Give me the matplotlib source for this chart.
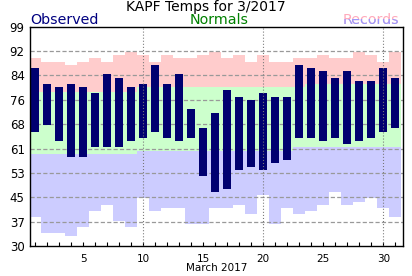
import matplotlib
matplotlib.use("Agg")
import matplotlib.pyplot as plt
import numpy as np
from matplotlib.patches import Rectangle

plt.rcParams['font.family'] = ['DejaVu Sans']
plt.rcParams['lines.scale_dashes'] = False

days = list(range(1, 32))
obs_high = [86, 81, 80, 81, 80, 78, 84, 83, 80, 81, 87, 81, 84, 73, 67, 72,
            79, 77, 76, 78, 77, 77, 87, 86, 85, 83, 85, 82, 82, 86, 83]
obs_low = [66, 68, 63, 58, 58, 61, 61, 61, 63, 64, 66, 64, 63, 64, 52, 47,
           48, 54, 55, 54, 56, 57, 64, 64, 63, 64, 62, 63, 64, 66, 67]
norm_high = [78.5] * 9 + [80] * 14 + [81] * 8
norm_low = [59] * 9 + [60] * 13 + [61] * 9
rec_high = [89, 88, 88, 87, 88, 89, 88, 90, 91, 90, 88, 90, 89, 89, 90, 91,
            89, 90, 88, 90, 88, 88, 89, 89, 90, 89, 89, 91, 90, 88, 91]
rec_low = [39, 34, 34, 33, 36, 41, 43, 38, 36, 45, 41, 42, 42, 37, 37, 42,
           42, 43, 40, 46, 37, 42, 40, 41, 43, 47, 43, 44, 45, 42, 39]
y_tick_labels = ["30", "37", "45", "53", "61", "68", "76", "84", "92", "99"]
x_tick_labels = ["5", "10", "15", "20", "25", "30"]

W, H = 412, 276
fig = plt.figure(figsize=(W / 100, H / 100), dpi=100)
L, R, T, B = 30.3, 402.5, 26.7, 246.0
ax = fig.add_axes([L / W, 1 - B / H, (R - L) / W, (B - T) / H])

edges = np.arange(0.5, len(days) + 1.5, 1)
ax.stairs(rec_high, edges, baseline=norm_high, fill=True, color='#ffcccc', lw=0, zorder=0)
ax.stairs(norm_high, edges, baseline=norm_low, fill=True, color='#ccffcc', lw=0, zorder=0)
ax.stairs(norm_low, edges, baseline=rec_low, fill=True, color='#ccccff', lw=0, zorder=0)

yt = np.linspace(30, 99, 10)
for v in yt[1:-1]:
    ax.axhline(v, color='#999999', lw=0.9, ls=(0, (3.0, 1.6)), zorder=1)

hi = np.array(obs_high, dtype=float)
lo = np.array(obs_low, dtype=float)
ax.bar(days, hi - lo, bottom=lo, width=0.667, color='#000070', zorder=2)

for d in [10, 20, 30]:
    ax.axvline(d, color='#777777', lw=0.8, ls=(0, (0.75, 1.45)), zorder=3)

ax.set_xlim(0.583, 31.6)
ax.set_ylim(30, 99)
ax.set_yticks(yt)
ax.set_yticklabels(y_tick_labels, fontsize=8.5)
ax.tick_params(axis='y', length=0, pad=4)
ax.set_xticks(days, minor=True)
ax.set_xticks([5, 10, 15, 20, 25, 30])
ax.set_xticklabels(x_tick_labels, fontsize=7.5)
ax.tick_params(axis='x', which='both', direction='in', length=3, width=0.8, pad=6)
ax.set_xlabel("March 2017", fontsize=7.5, labelpad=-1)
for s in ax.spines.values():
    s.set_linewidth(1.0)
    s.set_color('black')
    s.set_zorder(5)

fig.text(0.5, 1 - 10.5 / H, "KAPF Temps for 3/2017", ha='center', va='baseline', fontsize=10)
fig.text(30 / W, 1 - 24 / H, "Observed", ha='left', va='baseline', fontsize=10.3, color='#000080')
fig.text(219 / W, 1 - 24 / H, "Normals", ha='center', va='baseline', fontsize=10.3, color='#008000')
t1 = fig.text(399 / W, 1 - 24 / H, "Records", ha='right', va='baseline', fontsize=10.3, color='#ffaabb')
t2 = fig.text(399 / W, 1 - 24 / H, "Records", ha='right', va='baseline', fontsize=10.3, color='#9999ff')
clip = Rectangle((0, 0), 1, 1 - 18.5 / H, transform=fig.transFigure)
t2.set_clip_path(clip)

fig.savefig("out.png", dpi=100)
